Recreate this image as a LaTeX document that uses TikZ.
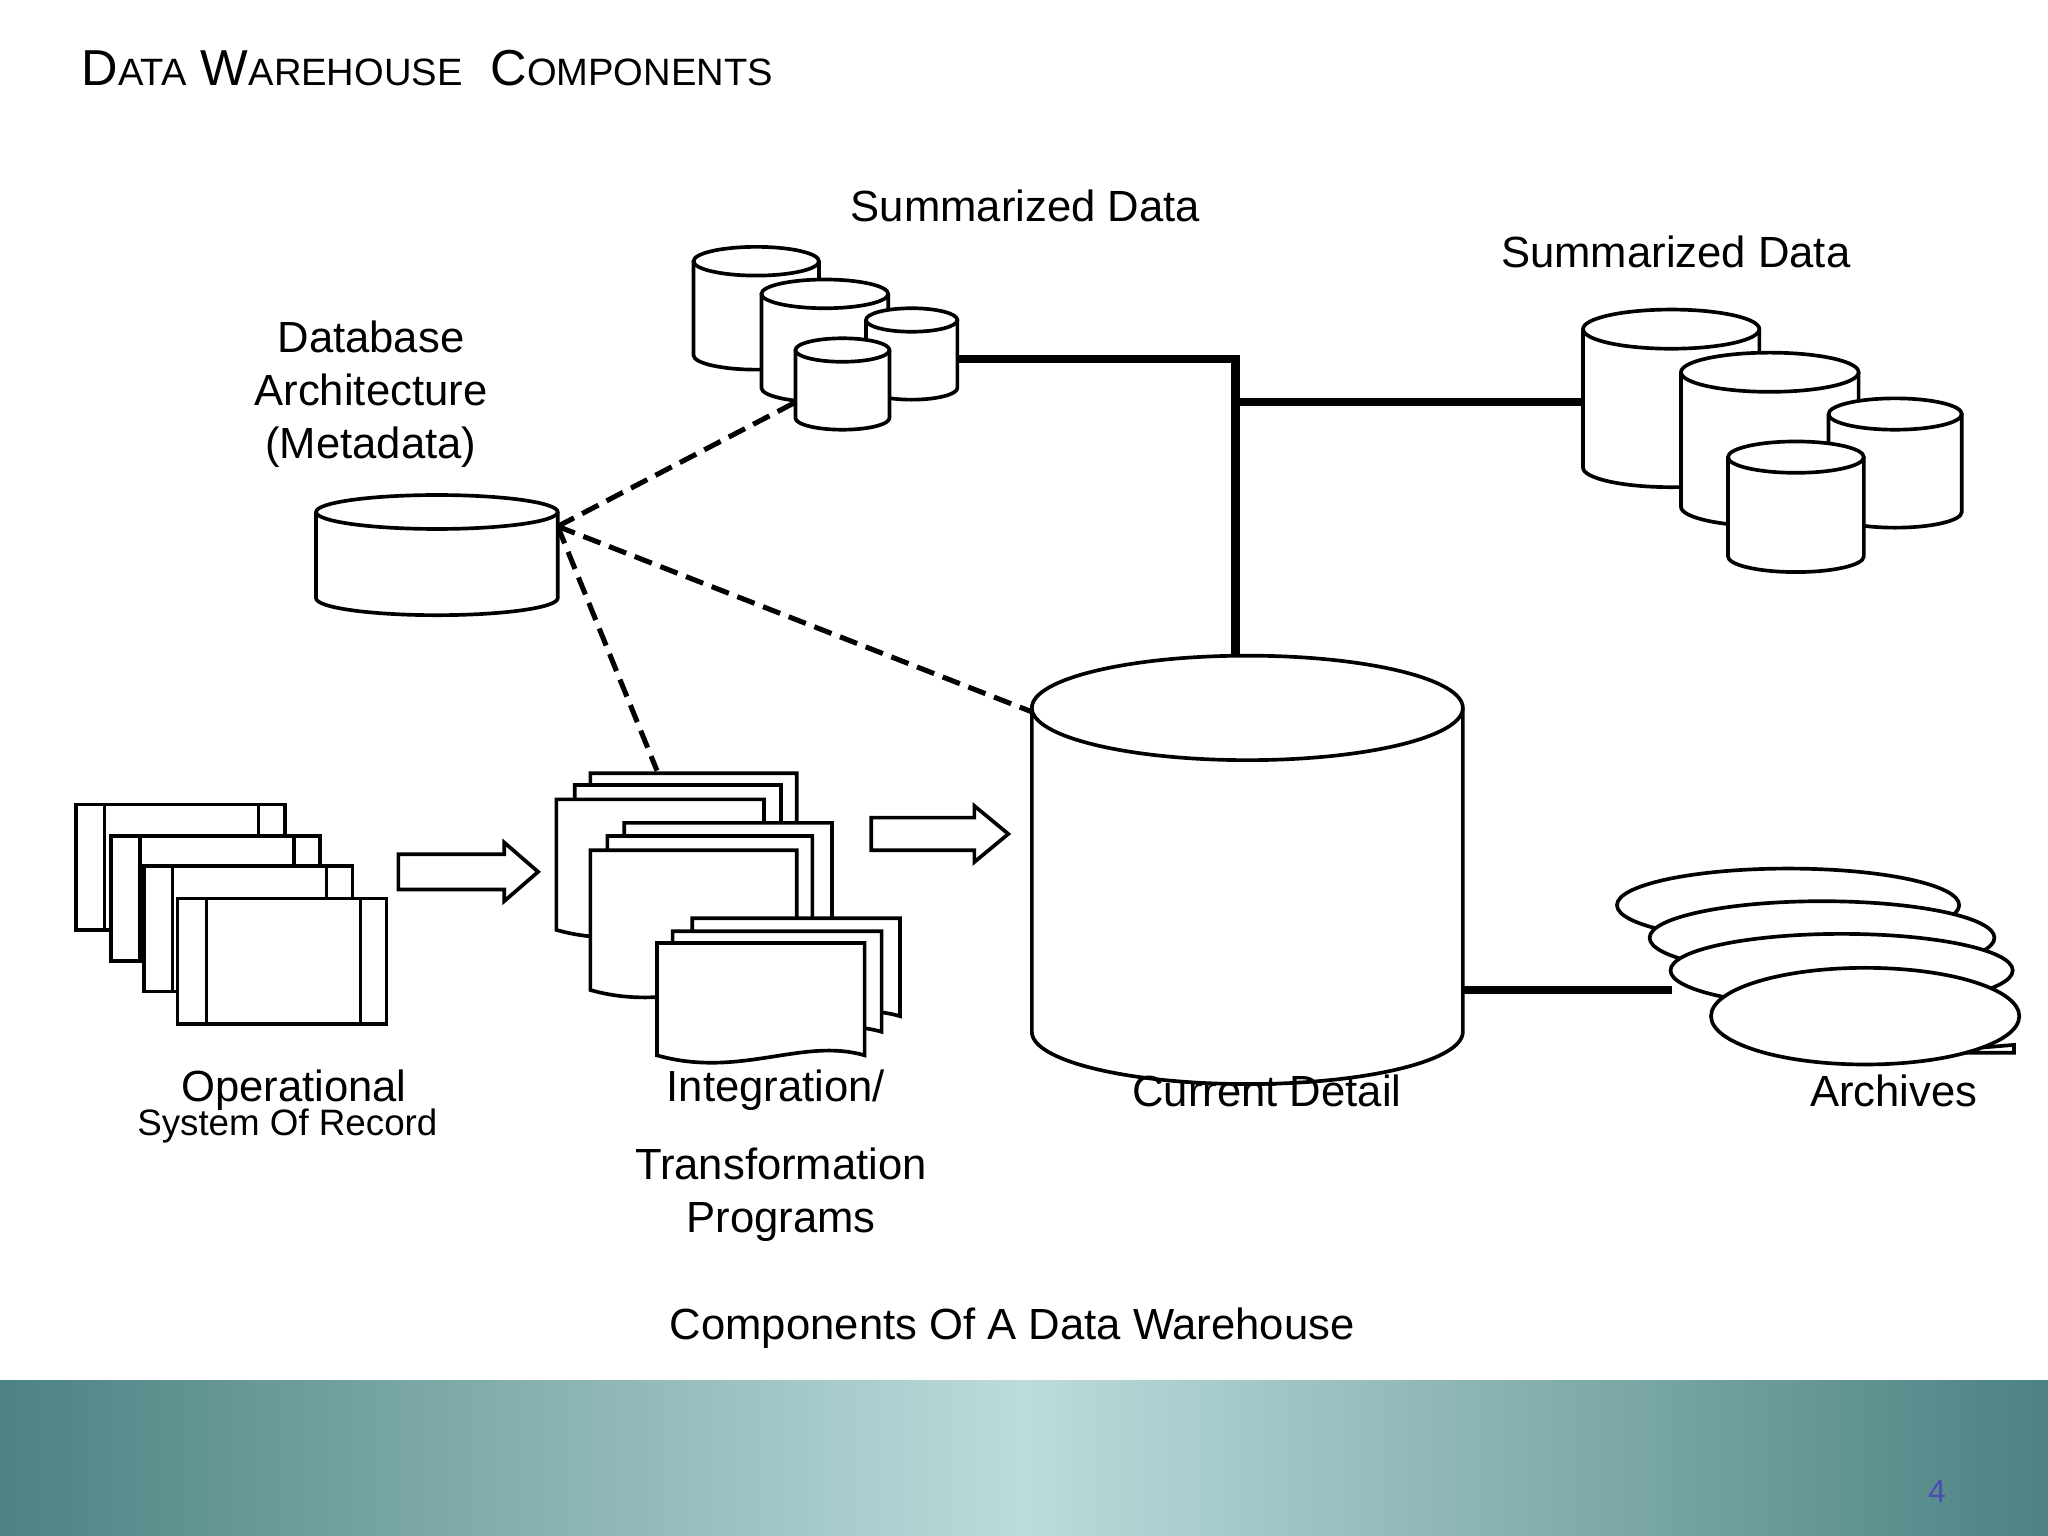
\documentclass[tikz,border=0pt]{standalone}
\usepackage{fontspec}
\setmainfont{Liberation Sans}
\begin{document}
\begin{tikzpicture}[x=0.01cm,y=-0.01cm,
  ln/.style={line width=0.8pt,draw=black},
  thick/.style={line width=1.8pt},
  dsh/.style={line width=1.1pt,dash pattern=on 4pt off 2pt},
  lbl/.style={font=\fontsize{9.5pt}{11.5pt}\selectfont,align=center,inner sep=0pt}]
\useasboundingbox (0,0) rectangle (1568,1176);
\fill[white] (0,0) rectangle (1568,1057);
\shade[left color=teal!60!black!70, right color=teal!60!black!70, middle color=cyan!30!gray!40] (0,1057) rectangle (1568,1176);
\node[font=\fontsize{7pt}{8pt}\selectfont,text=blue!40!gray] (pg) at (1483,1142) {4};
\node[anchor=west,font=\fontsize{11pt}{13pt}\selectfont,inner sep=0pt] (title) at (62,52) {D{\fontsize{8.3pt}{10pt}\selectfont ATA} W{\fontsize{8.3pt}{10pt}\selectfont AREHOUSE}\ \ C{\fontsize{8.3pt}{10pt}\selectfont OMPONENTS}};
\newcommand\mycyl[5]{%
 \fill[white] (#1,#3) -- (#1,#4) arc[start angle=180,end angle=0,x radius={(#2-#1)/2},y radius=#5] -- (#2,#3) -- cycle;
 \fill[white] ({(#1+#2)/2},#3) ellipse[x radius={(#2-#1)/2},y radius=#5];
 \draw[ln] (#1,#3) -- (#1,#4) arc[start angle=180,end angle=0,x radius={(#2-#1)/2},y radius=#5] -- (#2,#3);
 \draw[ln] ({(#1+#2)/2},#3) ellipse[x radius={(#2-#1)/2},y radius=#5];}
\coordinate (sj) at (946,275);
\coordinate (sa) at (733,275);
\coordinate (cdTop) at (946,520);
\coordinate (rj) at (946,308);
\coordinate (rs) at (1212,308);
\coordinate (cdR) at (1120,758);
\coordinate (arL) at (1280,758);
\draw[thick] (sa) -- (sj) -- (cdTop);
\draw[thick] (rj) -- (rs);
\draw[thick] (cdR) -- (arL);
\coordinate (md) at (427,403);
\draw[dsh] (md) -- (609,308);
\draw[dsh] (md) -- (790,545);
\draw[dsh] (md) -- (503,590);
\mycyl{531}{627}{200}{272}{11}
\mycyl{583}{680}{225}{297}{11}
\mycyl{663}{733}{245}{297}{9}
\mycyl{609}{681}{268}{320}{9}
\mycyl{1212}{1347}{252}{358}{15}
\mycyl{1287}{1423}{285}{388}{15}
\mycyl{1400}{1502}{317}{392}{12}
\mycyl{1323}{1427}{350}{426}{12}
\mycyl{242}{427}{392}{458}{13}
\mycyl{790}{1120}{542}{790}{40}
\foreach \a/\b in {58/616,85/640,110/663,136/688}{
  \filldraw[ln,fill=white] (\a,\b) rectangle (\a+160,\b+96);
  \draw[ln] (\a+22,\b) -- (\a+22,\b+96);
  \draw[ln] (\a+140,\b) -- (\a+140,\b+96);}
\newcommand\barrow[4]{\filldraw[ln,fill=white] (#1,#2+9) -- (#3-26,#2+9) -- (#3-26,#2) -- (#3,{(#2+#4)/2}) -- (#3-26,#4) -- (#3-26,#4-9) -- (#1,#4-9) -- cycle;}
\barrow{305}{645}{412}{690}
\barrow{667}{617}{772}{660}
\newcommand\doc[4]{\filldraw[ln,fill=white] (#1,#2) -- (#3,#2) -- (#3,#4) .. controls ({#3-0.3*(#3-#1)},{#4-14}) and ({#1+0.4*(#3-#1)},{#4+18}) .. (#1,#4) -- cycle;}
\doc{452}{592}{610}{698}
\doc{440}{601}{598}{705}
\doc{426}{612}{585}{712}
\doc{478}{630}{637}{738}
\doc{465}{640}{622}{748}
\doc{452}{651}{610}{758}
\doc{530}{703}{689}{778}
\doc{515}{713}{675}{790}
\doc{503}{722}{662}{808}
\foreach \cx/\cy/\rx/\ry in {1369/693/131/28,1395/718/132/28,1410/743/131/28}{
  \filldraw[ln,fill=white] (\cx,\cy) ellipse[x radius=\rx,y radius=\ry];}
\filldraw[ln,fill=white] (1428,778) ellipse[x radius=118,y radius=37];
\draw[ln] (1518,802) -- (1542,800) -- (1542,806) -- (1505,806);
\node[lbl] (l1) at (785,158) {Summarized Data};
\node[lbl] (l2) at (1283,193) {Summarized Data};
\node[lbl] (l3) at (284,302) {Database\\Architecture\\(Metadata)};
\node[lbl] (l4) at (225,835) {Operational};
\node[lbl,font=\fontsize{8pt}{9pt}\selectfont] (l5) at (220,862) {System Of Record};
\node[lbl] (l6) at (594,835) {Integration/};
\node[lbl] (l7) at (598,915) {Transformation\\Programs};
\node[lbl] (l8) at (970,835) {Current Detail};
\node[lbl] (l9) at (1450,835) {Archives};
\node[lbl] (l10) at (775,1017) {Components Of A Data Warehouse};
\end{tikzpicture}
\end{document}
